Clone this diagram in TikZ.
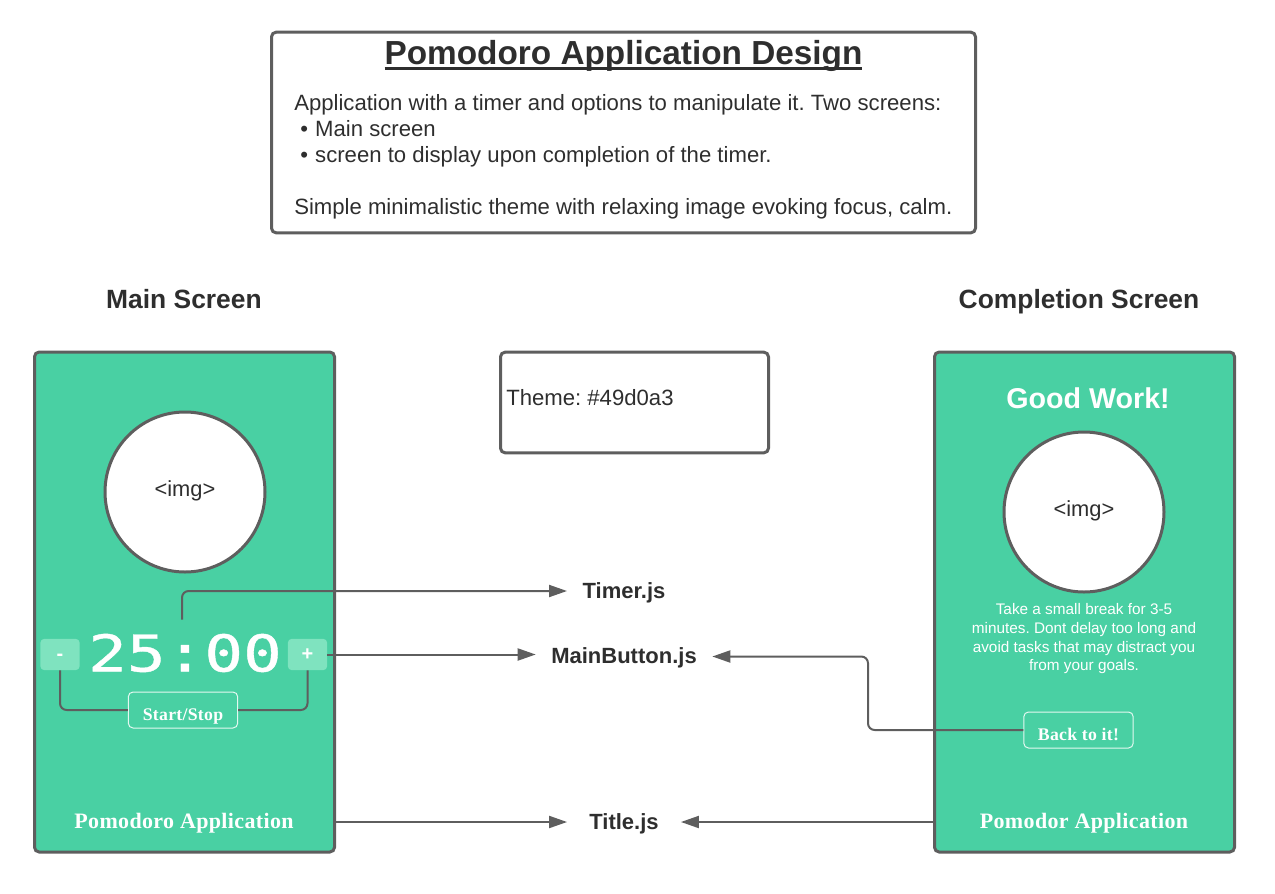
\documentclass[tikz,border=0pt]{standalone}
\usepackage{fontspec}
\setmainfont{Liberation Sans}
\newfontfamily\labelfont{Liberation Serif}[LetterSpace=1.6]
\newfontfamily\clockfont{DejaVu Sans Mono}[FakeStretch=1.27,FakeBold=0.8]
\usetikzlibrary{positioning,shapes,arrows,arrows.meta,calc}
\definecolor{theme}{HTML}{49D0A3}
\definecolor{edge}{HTML}{5E5E5E}
\definecolor{ink}{HTML}{2E2E2E}
\definecolor{soft}{HTML}{7FE3BF}
\newcommand{\thickuline}[1]{\setbox0=\hbox{#1}\rlap{\rule[-4.4pt]{\wd0}{2.2pt}}\box0}
\tikzstyle{every node}=[text=ink,inner sep=0pt]
\tikzstyle{panel}=[draw=edge,line width=2.25pt,rounded corners=3.5pt]
\tikzstyle{screen}=[panel,fill=theme,minimum width=225pt,minimum height=375pt]
\tikzstyle{photo}=[circle,draw=edge,line width=2.25pt,fill=white,minimum size=120pt,text height=9pt,text depth=3pt,font=\fontsize{16.4}{18}\selectfont]
\tikzstyle{module}=[font=\fontsize{16.5}{20}\selectfont\bfseries,inner xsep=11.5pt,inner ysep=6pt,text height=10.5pt,text depth=0pt]
\tikzstyle{heading}=[anchor=base,font=\fontsize{19.8}{24}\selectfont\bfseries]
\tikzstyle{smallbtn}=[fill=soft,rounded corners=3pt,minimum width=29.5pt,minimum height=23.5pt,text=white,text height=9pt,text depth=0pt,font=\fontsize{15}{18}\selectfont\bfseries]
\tikzstyle{action}=[draw=white!85!theme,line width=.75pt,rounded corners=3.5pt,minimum width=82pt,minimum height=27pt,text=white,text height=15pt,text depth=0pt,font=\labelfont\fontsize{13.3}{15}\selectfont\bfseries]
\tikzstyle{footer}=[anchor=base,text=white,font=\labelfont\fontsize{16.5}{18}\selectfont\bfseries]
\tikzstyle{wire}=[draw=edge,line width=1.5pt,rounded corners=5pt]
\tikzstyle{link}=[wire,-{Triangle[length=13.5pt,width=9pt]}]

\begin{document}
\frenchspacing
\begin{tikzpicture}[x=0.75pt,y=-0.75pt]
    \useasboundingbox (0,0) rectangle (1275,893);

    % description
    \node [panel,minimum width=528pt,minimum height=150.5pt] (intro) at (623.5,132.5) {};
    \node [anchor=base,font=\fontsize{25}{30}\selectfont\bfseries] (title) at (623.5,64) {\thickuline{Pomodoro Application Design}};
    \node [anchor=north west,align=left,font=\fontsize{16.6}{19.5}\selectfont] (about) at (294,94) {Application with a timer and options to manipulate it. Two screens:\\
      \ \textbullet\hspace{.32em}Main screen\\
      \ \textbullet\hspace{.32em}screen to display upon completion of the timer.\\[19.5pt]
      Simple minimalistic theme with relaxing image evoking focus, calm.};

    \node [heading] (mainhead) at (184,308) {Main Screen};
    \node [heading] (donehead) at (1079,308) {Completion Screen};

    % main screen
    \node [screen] (main) at (184.5,602) {};
    \node [photo] (mainimg) at (185,492) {<img>};
    \node [minimum width=145pt,minimum height=49.5pt,text=white,font=\clockfont\fontsize{38}{40}\selectfont] (timer) at (185,653) {25:00};
    \node [smallbtn] (minus) at (60,654.5) {-};
    \node [smallbtn] (plus) at (307.5,654.5) {+};
    \node [action] (start) at (183,710) {Start/Stop};
    \node [footer] (mainfoot) at (184,828) {Pomodoro Application};

    % theme
    \node [panel,minimum width=201pt,minimum height=75.5pt] (themebox) at (634.5,402.5) {};
    \node [anchor=west,font=\fontsize{16.6}{20}\selectfont] (themetext) at (506,398) {Theme: \#49d0a3};

    % completion screen
    \node [screen] (done) at (1084.5,602) {};
    \node [text=white,font=\fontsize{21.5}{26}\selectfont\bfseries] (good) at (1088,398) {Good Work!};
    \node [photo] (doneimg) at (1084,512) {<img>};
    \node [align=center,text=white,font=\fontsize{11.5}{14}\selectfont] (note) at (1084,639) {Take a small break for 3-5\\minutes. Dont delay too long and\\avoid tasks that may distract you\\from your goals.};
    \node [action] (back) at (1078.5,730) {Back to it!};
    \node [footer] (donefoot) at (1084,828) {Pomodor Application};

    % modules
    \node [module] (timerjs) at (624,591) {Timer.js};
    \node [module] (buttonjs) at (624,656.5) {MainButton.js};
    \node [module,inner xsep=16.5pt,text height=11.5pt] (titlejs) at (624,822) {Title.js};
    \coordinate (bend) at (868,730);

    \draw [wire] (minus.south) |- (start.west);
    \draw [wire] (plus.south) |- (start.east);
    \draw [link] ($(timer.north)+(-3,0)$) |- (timerjs.west);
    \draw [link] (plus.east) -- (plus.east -| buttonjs.west);
    \draw [link] (back.west) -- (bend) |- (buttonjs.east);
    \draw [link] (main.east |- titlejs.west) -- (titlejs.west);
    \draw [link] (done.west |- titlejs.east) -- (titlejs.east);
\end{tikzpicture}
\end{document}
